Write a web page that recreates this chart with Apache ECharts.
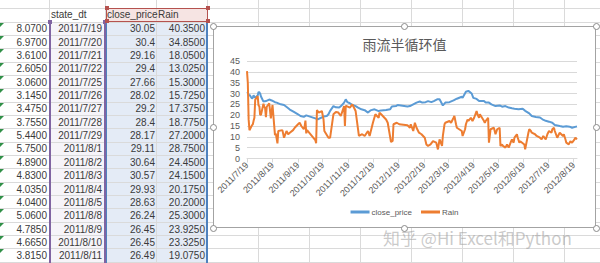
<!DOCTYPE html>
<html><head><meta charset="utf-8">
<script src="https://cdn.jsdelivr.net/npm/echarts@6/dist/echarts.min.js"></script>
<style>
html,body{margin:0;padding:0;}
body{width:600px;height:263px;overflow:hidden;background:#fff;position:relative;font-family:"Liberation Sans",Arial,sans-serif;}
#sheet{position:absolute;left:0;top:0;width:600px;height:263px;}
#chart{position:absolute;left:213px;top:26px;width:383px;height:202px;background:#fff;}
#frame{position:absolute;left:213px;top:26px;width:383px;height:202px;box-sizing:border-box;border:1px solid #a3a3a3;pointer-events:none;}
.h{position:absolute;width:7px;height:7px;border-radius:50%;background:#fff;border:1px solid #8a8a8a;box-sizing:border-box;}
#wm{position:absolute;left:383px;top:225px;font-family:"Noto Sans CJK SC","Liberation Sans",sans-serif;font-size:17px;color:rgba(150,150,150,0.5);white-space:nowrap;}
</style></head><body>
<div id="sheet"></div>
<div id="chart"></div>
<div id="frame"></div>
<div id="handles"></div>
<div id="wm">知乎 @Hi Excel和Python</div>
<script>
// ---------- spreadsheet data ----------
const colA = [8.07,6.97,3.61,2.605,3.06,3.145,3.475,3.755,5.44,5.75,4.89,4.83,4.035,4.04,5.06,4.785,4.665,3.815];
const headers = ['', 'state_dt', 'close_price', 'Rain'];
const chartTitle = '雨流半循环值';

// ---------- chart data ----------
const closeDates = ['2011/7/19','2011/7/20','2011/7/21','2011/7/22','2011/7/25','2011/7/26','2011/7/27','2011/7/28','2011/7/29','2011/8/1','2011/8/2','2011/8/3','2011/8/4','2011/8/5','2011/8/8','2011/8/9','2011/8/10','2011/8/11',
'2011/8/15','2011/8/18','2011/8/22','2011/8/24','2011/8/29','2011/9/2','2011/9/6','2011/9/9','2011/9/14','2011/9/19','2011/9/22','2011/9/26','2011/9/29','2011/10/10','2011/10/13','2011/10/17','2011/10/20','2011/10/24','2011/10/26','2011/10/28',
'2011/11/1','2011/11/4','2011/11/8','2011/11/11','2011/11/14','2011/11/16','2011/11/18','2011/11/21','2011/11/23','2011/11/28','2011/12/1','2011/12/5','2011/12/9','2011/12/13','2011/12/16','2011/12/21','2011/12/26','2011/12/29',
'2012/1/4','2012/1/9','2012/1/11','2012/1/16','2012/1/18','2012/1/30','2012/2/2','2012/2/6','2012/2/10','2012/2/14','2012/2/17','2012/2/21','2012/2/24','2012/2/28','2012/3/2','2012/3/6','2012/3/9','2012/3/13','2012/3/16','2012/3/21','2012/3/26','2012/3/30',
'2012/4/5','2012/4/6','2012/4/10','2012/4/13','2012/4/17','2012/4/19','2012/4/23','2012/4/26','2012/5/2','2012/5/4','2012/5/8','2012/5/11','2012/5/16','2012/5/21','2012/5/24','2012/5/28','2012/6/1','2012/6/5','2012/6/8','2012/6/13','2012/6/18','2012/6/21','2012/6/26','2012/6/29',
'2012/7/4','2012/7/9','2012/7/12','2012/7/16','2012/7/20','2012/7/24','2012/7/27','2012/8/2','2012/8/6','2012/8/10','2012/8/14','2012/8/17','2012/8/22','2012/8/23'];
const closeValues = [30.05,30.4,29.16,29.4,27.66,28.02,29.2,28.4,28.17,29.11,30.64,30.57,29.93,28.63,26.24,26.45,26.45,26.49,
27.2,26.8,26.0,25.8,25.0,24.7,23.5,22.6,21.5,20.4,19.6,19.2,19.9,18.5,18.1,18.8,19.4,19.6,20.4,22.0,
24.2,23.6,23.5,24.5,25.8,27.3,26.0,25.5,25.0,24.2,23.5,22.7,22.3,21.2,22.2,22.7,21.9,22.2,
22.4,22.7,24.0,24.2,24.7,24.0,24.2,25.0,25.8,26.3,25.8,26.0,26.5,26.0,26.5,27.3,27.3,24.5,25.8,26.0,26.8,27.6,
28.5,28.0,30.8,31.2,30.0,28.0,27.5,26.5,26.5,25.8,25.8,25.0,24.2,24.5,23.9,24.2,23.5,23.2,23.0,22.7,23.0,22.0,20.8,19.6,
19.2,18.9,18.1,17.4,17.0,16.5,15.5,15.0,14.7,14.9,14.7,14.2,14.7,14.8];

const rainDates = ['2011/7/19','2011/7/20','2011/7/21','2011/7/22','2011/7/25','2011/7/26','2011/7/27','2011/7/28','2011/7/29','2011/8/1','2011/8/2','2011/8/3','2011/8/4','2011/8/5','2011/8/8','2011/8/9','2011/8/10','2011/8/11',
'2011/8/12','2011/8/15','2011/8/17','2011/8/19','2011/8/22','2011/8/23','2011/8/25','2011/8/26','2011/8/31','2011/9/2','2011/9/5','2011/9/7','2011/9/9','2011/9/13','2011/9/15','2011/9/19','2011/9/21','2011/9/23','2011/9/26','2011/9/27','2011/9/28','2011/9/29','2011/9/30',
'2011/10/10','2011/10/11','2011/10/12','2011/10/14','2011/10/18','2011/10/20','2011/10/21','2011/10/26','2011/10/28','2011/11/1','2011/11/4','2011/11/7','2011/11/10','2011/11/14','2011/11/15','2011/11/16','2011/11/17','2011/11/21','2011/11/24','2011/11/28',
'2011/12/2','2011/12/6','2011/12/9','2011/12/13','2011/12/15','2011/12/19','2011/12/22','2011/12/26','2011/12/27','2011/12/29','2012/1/4','2012/1/6','2012/1/10','2012/1/12','2012/1/13','2012/1/17','2012/1/20','2012/1/30','2012/1/31',
'2012/2/2','2012/2/3','2012/2/6','2012/2/8','2012/2/10','2012/2/13','2012/2/16','2012/2/20','2012/2/22','2012/2/24','2012/2/27','2012/3/1','2012/3/5','2012/3/7','2012/3/9','2012/3/12','2012/3/13','2012/3/15','2012/3/16','2012/3/21','2012/3/23','2012/3/26','2012/3/27','2012/3/29','2012/3/30',
'2012/4/5','2012/4/6','2012/4/9','2012/4/10','2012/4/12','2012/4/13','2012/4/16','2012/4/18','2012/4/20','2012/4/23','2012/4/24','2012/4/26','2012/4/27','2012/5/2','2012/5/3','2012/5/4','2012/5/7','2012/5/8','2012/5/10','2012/5/14','2012/5/16','2012/5/18','2012/5/21','2012/5/22','2012/5/24','2012/5/25','2012/5/28','2012/5/30',
'2012/6/1','2012/6/4','2012/6/5','2012/6/7','2012/6/8','2012/6/11','2012/6/12','2012/6/14','2012/6/15','2012/6/20','2012/6/21','2012/6/25','2012/6/26','2012/6/28','2012/6/29','2012/7/3','2012/7/5','2012/7/9','2012/7/11','2012/7/13','2012/7/16','2012/7/18','2012/7/20','2012/7/23','2012/7/24','2012/7/26','2012/7/27','2012/7/30','2012/7/31',
'2012/8/2','2012/8/6','2012/8/7','2012/8/9','2012/8/10','2012/8/13','2012/8/15','2012/8/17','2012/8/20','2012/8/21','2012/8/23'];
const rainValues = [40.35,34.85,18.05,13.025,15.3,15.725,17.375,18.775,27.2,28.75,24.45,24.15,20.175,20.2,25.3,23.925,23.325,19.075,
23.9,25.5,18.5,24.7,10.8,11.5,7.0,12.7,13.1,9.6,12.7,11.2,11.9,13.1,14.2,15.8,16.5,15.0,13.5,14.7,17.5,11.6,13.1,
8.5,7.0,22.4,21.2,21.9,18.0,12.7,9.6,9.6,20.4,21.5,21.2,19.6,24.2,15.0,24.2,24.2,23.5,25.0,21.9,
10.4,11.2,10.4,12.7,10.4,16.5,20.4,18.8,21.2,20.4,18.0,16.5,7.6,8.1,15.8,16.5,15.8,15.3,15.0,
14.2,15.8,12.7,16.5,14.2,11.9,11.2,9.6,6.5,5.8,6.5,8.0,7.3,4.2,8.8,5.8,10.4,15.8,16.5,17.3,16.5,18.8,19.6,15.8,14.2,
12.7,10.4,13.5,15.8,18.0,17.3,18.8,17.3,18.8,21.9,20.4,18.8,20.4,17.3,16.5,17.3,18.8,7.3,13.5,14.2,11.2,13.5,14.2,5.8,6.5,5.8,5.0,6.5,
5.0,8.0,8.8,7.3,9.6,11.2,9.6,7.3,8.0,6.5,4.2,12.0,13.5,12.7,11.9,11.2,10.4,9.6,8.8,10.4,8.8,11.2,12.7,11.9,13.5,14.2,12.7,9.6,10.4,
11.9,10.4,11.2,8.8,7.3,6.5,8.0,7.3,8.8,9.6,8.8];

const yTicks = {min: 0, max: 45, interval: 5};
const axisStart = [2011, 7, 19];
const axisEnd = [2012, 8, 23];

// ---------- spreadsheet drawing ----------
const sheet = document.getElementById('sheet');
function box(x, y, w, h, style) {
  const d = document.createElement('div');
  d.style.cssText = `position:absolute;left:${x}px;top:${y}px;width:${w}px;height:${h}px;box-sizing:border-box;${style || ''}`;
  sheet.appendChild(d);
  return d;
}
const colEdges = [49, 105, 156, 207, 258, 309, 360, 411, 462, 513, 564, 615];
const headTop = 7.5, headH = 14, rowH = 13.35;
const nRows = colA.length;
function rowTop(r) { return r === 0 ? headTop : headTop + headH + (r - 1) * rowH; }

// range fills
box(105, headTop, 102, headH, 'background:#f6e4e3');
box(105, rowTop(1), 102, 263 - rowTop(1), 'background:#e4ebf6');
box(49, rowTop(1), 56, 263 - rowTop(1), 'background:#f6f4f9');
// gridlines
colEdges.forEach(x => box(x, 0, 1, 263, 'background:#dadada'));
for (let r = 0; r <= nRows + 1; r++) box(0, Math.round(rowTop(r)) - 0.5, 600, 1, 'background:#dadada');

function cellText(x0, x1, r, txt, align) {
  const t = box(x0, rowTop(r) + 0.8, x1 - x0, r === 0 ? headH : rowH,
    `font-size:10px;color:#3a3a3a;white-space:nowrap;overflow:visible;text-align:${align};line-height:${r === 0 ? headH : rowH}px;padding:0 2px 0 2px;`);
  t.textContent = txt;
}
cellText(105 - 56, 105, 0, headers[1], 'left');
cellText(105, 156, 0, headers[2], 'left');
cellText(156, 207, 0, headers[3], 'left');
for (let i = 0; i < nRows; i++) {
  const r = i + 1;
  cellText(-20, 49, r, colA[i].toFixed(4), 'right');
  cellText(49, 104, r, closeDates[i], 'right');
  cellText(105, 157, r, String(closeValues[i]), 'right');
  cellText(156, 207, r, rainValues[i].toFixed(4), 'right');
  box(0, rowTop(r) + 1, 0, 0, 'border-top:4px solid #2f8f46;border-right:4px solid transparent');
}
// range borders
box(49, rowTop(1), 1.5, 263, 'background:#8064a2');
box(104, rowTop(1), 1.5, 263, 'background:#8064a2');
box(47.5, rowTop(1) - 1.5, 4, 4, 'background:#8064a2');
box(103, rowTop(1) - 1.5, 4, 4, 'background:#8064a2');
box(105.5, rowTop(1), 1.5, 263, 'background:#4f81bd');
box(206, rowTop(1), 1.5, 263, 'background:#4f81bd');
box(105.5, headTop, 102, headH, 'border:1.5px solid #b5524f');
[[104.5, headTop - 1.5], [205.5, headTop - 1.5], [104.5, headTop + headH - 2.5], [205.5, headTop + headH - 2.5]]
  .forEach(p => box(p[0], p[1], 4, 4, 'background:#b5524f'));

// chart handles
const hs = document.getElementById('handles');
[[213, 26], [404, 26], [596, 26], [213, 127], [596, 127], [213, 228], [404, 228], [596, 228]].forEach(p => {
  const d = document.createElement('div');
  d.className = 'h';
  d.style.left = (p[0] - 3.5) + 'px';
  d.style.top = (p[1] - 3.5) + 'px';
  hs.appendChild(d);
});

// ---------- chart ----------
const days = [];
{
  const cur = new Date(axisStart[0], axisStart[1] - 1, axisStart[2]);
  const end = new Date(axisEnd[0], axisEnd[1] - 1, axisEnd[2]);
  while (cur <= end) {
    days.push(cur.getFullYear() + '/' + (cur.getMonth() + 1) + '/' + cur.getDate());
    cur.setDate(cur.getDate() + 1);
  }
}
const isMonthTick = (idx, val) => /\/19$/.test(val);

const chart = echarts.init(document.getElementById('chart'), null, {renderer: 'svg'});
chart.setOption({
  animation: false,
  backgroundColor: '#fff',
  textStyle: {fontFamily: 'Liberation Sans, Arial, sans-serif'},
  title: {
    text: chartTitle, left: 'center', top: 6,
    textStyle: {fontSize: 14, fontWeight: 'normal', color: '#595959', fontFamily: 'Noto Sans CJK SC'}
  },
  legend: {
    bottom: 7, left: 'center', icon: 'rect', itemWidth: 19, itemHeight: 3, itemGap: 9,
    textStyle: {fontSize: 8, color: '#595959', padding: [0, 0, 0, -3]},
    data: ['close_price', 'Rain']
  },
  grid: {left: 34, right: 19, top: 35, bottom: 69.5, containLabel: false},
  xAxis: {
    type: 'category', data: days, boundaryGap: false,
    axisLine: {lineStyle: {color: '#d9d9d9'}},
    axisTick: {show: true, interval: isMonthTick, length: 4, lineStyle: {color: '#d9d9d9'}},
    axisLabel: {interval: isMonthTick, rotate: 45, fontSize: 9, color: '#595959', margin: 5},
    splitLine: {show: false}
  },
  yAxis: {
    type: 'value', min: yTicks.min, max: yTicks.max, interval: yTicks.interval,
    axisLine: {show: false}, axisTick: {show: false},
    axisLabel: {fontSize: 9, color: '#595959', margin: 7},
    splitLine: {lineStyle: {color: '#d9d9d9'}}
  },
  series: [
    {name: 'close_price', type: 'line', showSymbol: false, symbol: 'none', connectNulls: true,
     data: closeDates.map((d, i) => [d, closeValues[i]]),
     lineStyle: {width: 2, color: '#5b9bd5'}, itemStyle: {color: '#5b9bd5'}},
    {name: 'Rain', type: 'line', showSymbol: false, symbol: 'none', connectNulls: true,
     data: rainDates.map((d, i) => [d, rainValues[i]]),
     lineStyle: {width: 2, color: '#ed7d31'}, itemStyle: {color: '#ed7d31'}}
  ]
});
</script>
</body></html>
